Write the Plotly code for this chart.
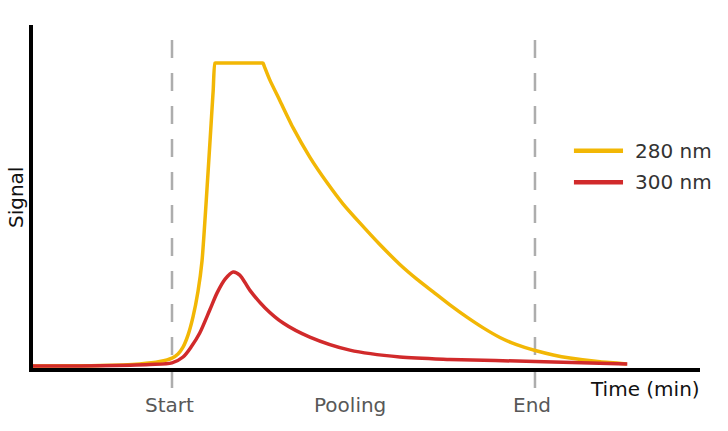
import plotly.graph_objects as go

# Data (arbitrary time units 0-100, signal 0-100)
t_280 = [0, 10, 16, 19, 20.84, 21.74, 22.49, 23.24, 23.99, 24.74, 25.34, 27.0, 27.29, 27.5,
         34.3, 34.48, 34.65,
         35.5, 37, 39, 41.5, 44.1, 46.5, 49, 52, 55, 57.5, 60, 62.5, 65, 67.5, 70, 72.5,
         75.3, 78, 80.5, 85, 89]
s_280 = [0.6, 0.7, 1.2, 1.9, 2.9, 4.1, 6.1, 9.6, 14.9, 22.4, 31.2, 80.4, 88.9, 88.9,
         88.9, 88.9, 88.1,
         84, 78, 70, 61.5, 54, 47.8, 42.3, 36, 30.2, 26, 22.2, 18.4, 14.9, 11.7, 8.9, 6.8,
         5.1, 3.8, 2.9, 1.8, 1.2]

t_300 = [0, 10, 17.5, 20.84, 22.5, 23.8, 25, 26.5, 27.6, 28.8, 30, 31, 32.5, 34.8, 37.5,
         41.5, 47.5, 55, 62.5, 75.3, 89.1]
s_300 = [0.6, 0.65, 1.0, 1.5, 3.2, 6.4, 10.2, 16.9, 21.9, 25.9, 28.0, 27.1, 22.7, 17.5, 13.1,
         9.0, 5.2, 3.2, 2.5, 1.9, 1.2]

series_names = ["280 nm", "300 nm"]
series_colors = ["#F2B705", "#D12A2B"]

markers_t = [20.84, 75.26]
marker_labels = ["Start", "End"]
pool_label_t = 47.5
pool_label = "Pooling"

FONT = "DejaVu Sans, Arial, sans-serif"

fig = go.Figure()
fig.add_trace(go.Scatter(x=t_280, y=s_280, mode="lines", name=series_names[0],
                         line=dict(color=series_colors[0], width=3.5, shape="spline", smoothing=0.6)))
fig.add_trace(go.Scatter(x=t_300, y=s_300, mode="lines", name=series_names[1],
                         line=dict(color=series_colors[1], width=3.5, shape="spline", smoothing=0.8)))

# dashed marker lines
for mt in markers_t:
    fig.add_shape(type="line", xref="x", yref="paper", x0=mt, x1=mt, y0=-0.058, y1=1.0,
                  line=dict(color="#ADADAD", width=2.5, dash="18px,15px"), layer="below")

annotations = []
for mt, lab in zip(markers_t, marker_labels):
    annotations.append(dict(x=mt - 0.4, y=-0.108, xref="x", yref="paper", text=lab, showarrow=False,
                            font=dict(family=FONT, size=20, color="#585858"),
                            xanchor="center", yanchor="middle"))
annotations.append(dict(x=pool_label_t, y=-0.108, xref="x", yref="paper", text=pool_label, showarrow=False,
                        font=dict(family=FONT, size=20, color="#585858"), xanchor="center", yanchor="middle"))
annotations.append(dict(x=0.9175, y=-0.061, xref="paper", yref="paper", text="Time (min)", showarrow=False,
                        font=dict(family=FONT, size=20, color="#111111"), xanchor="center", yanchor="middle"))
annotations.append(dict(x=-0.0255, y=0.4985, xref="paper", yref="paper", text="Signal", showarrow=False,
                        textangle=-90, font=dict(family=FONT, size=20, color="#111111"),
                        xanchor="center", yanchor="middle"))

# manual legend
leg_y = [0.6335, 0.5414]
for name, col, ly in zip(series_names, series_colors, leg_y):
    fig.add_shape(type="line", xref="paper", yref="paper", x0=0.811, x1=0.8846, y0=ly, y1=ly,
                  line=dict(color=col, width=4.5))
    annotations.append(dict(x=0.899, y=ly, xref="paper", yref="paper", text=name, showarrow=False,
                            font=dict(family=FONT, size=20, color="#333333"),
                            xanchor="left", yanchor="middle"))

fig.update_layout(
    width=728, height=431,
    margin=dict(l=33, r=28, t=25, b=63),
    paper_bgcolor="white", plot_bgcolor="white",
    showlegend=False,
    hovermode=False,
    annotations=annotations,
    xaxis=dict(range=[0, 100], showgrid=False, zeroline=False, showticklabels=False,
               showline=True, linecolor="black", linewidth=4, ticks=""),
    yaxis=dict(range=[0, 100], showgrid=False, zeroline=False, showticklabels=False,
               showline=True, linecolor="black", linewidth=4, ticks=""),
)

fig.write_html("out.html", config={"displayModeBar": False},
               post_script="document.body.style.margin='0';document.body.style.overflow='hidden';")
